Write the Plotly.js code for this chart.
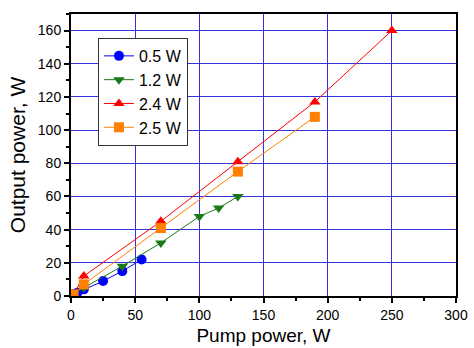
<!DOCTYPE html>
<html><head><meta charset="utf-8">
<script src="https://cdn.plot.ly/plotly-3.0.1.min.js"></script>
<style>html,body{margin:0;padding:0;background:#fff}#c{width:474px;height:348px}</style>
</head><body><div id="c"></div>
<script>
const names = ['0.5 W','1.2 W','2.4 W','2.5 W'];
const colors = ['#0000ff','#1a7a1a','#ff0000','#ff8000'];
const symbols = ['circle','triangle-down','triangle-up','square'];
const x05 = [2,5,10,25,40,55];
const y05 = [1,2,4,9,15,22];
const x12 = [2,10,40,70,100,115,130];
const y12 = [1,5,18,32,48,53,60];
const x24 = [2,10,70,130,190,250];
const y24 = [1,12,45,81,117,160];
const x25 = [2,10,70,130,190];
const y25 = [1,7,41,75,108];
const xs = [x05,x12,x24,x25], ys = [y05,y12,y24,y25];
const xTicks = [0,50,100,150,200,250,300];
const yTicks = [0,20,40,60,80,100,120,140,160];

const traces = names.map((n,i)=>({
  x: xs[i], y: ys[i], name: n, type:'scatter', mode:'lines+markers',
  line:{color:colors[i], width:1},
  marker:{symbol:symbols[i], color:colors[i], size:10}
}));
const font = {family:'Liberation Sans, Arial, sans-serif', color:'#000'};
const axisCommon = {
  showline:true, linecolor:'#000', linewidth:2, mirror:true,
  showgrid:true, gridcolor:'#3333dd', gridwidth:1.3,
  ticks:'outside', ticklen:5, tickwidth:1.5, tickcolor:'#000',
  zeroline:false, tickfont:{...font, size:14}
};
Plotly.newPlot('c', traces, {
  width:474, height:348,
  margin:{l:71, r:18, t:14, b:52},
  paper_bgcolor:'#fff', plot_bgcolor:'#fff',
  font: font,
  showlegend:true,
  legend:{x:0.07, y:0.915, xanchor:'left', yanchor:'top', bgcolor:'#fff',
    bordercolor:'#333', borderwidth:1, font:{...font, size:16}, tracegroupgap:0, itemwidth:30},
  xaxis:{...axisCommon, range:[0,300], tickvals:xTicks,
    minor:{ticks:'outside', dtick:25, ticklen:3, tickcolor:'#000', showgrid:false},
    title:{text:'Pump power, W', font:{...font, size:19}, standoff:7}},
  yaxis:{...axisCommon, range:[0,170], tickvals:yTicks,
    minor:{ticks:'outside', dtick:10, ticklen:3, tickcolor:'#000', showgrid:false},
    title:{text:'Output power, W', font:{...font, size:21}, standoff:6}}
}, {displayModeBar:false});
</script></body></html>
